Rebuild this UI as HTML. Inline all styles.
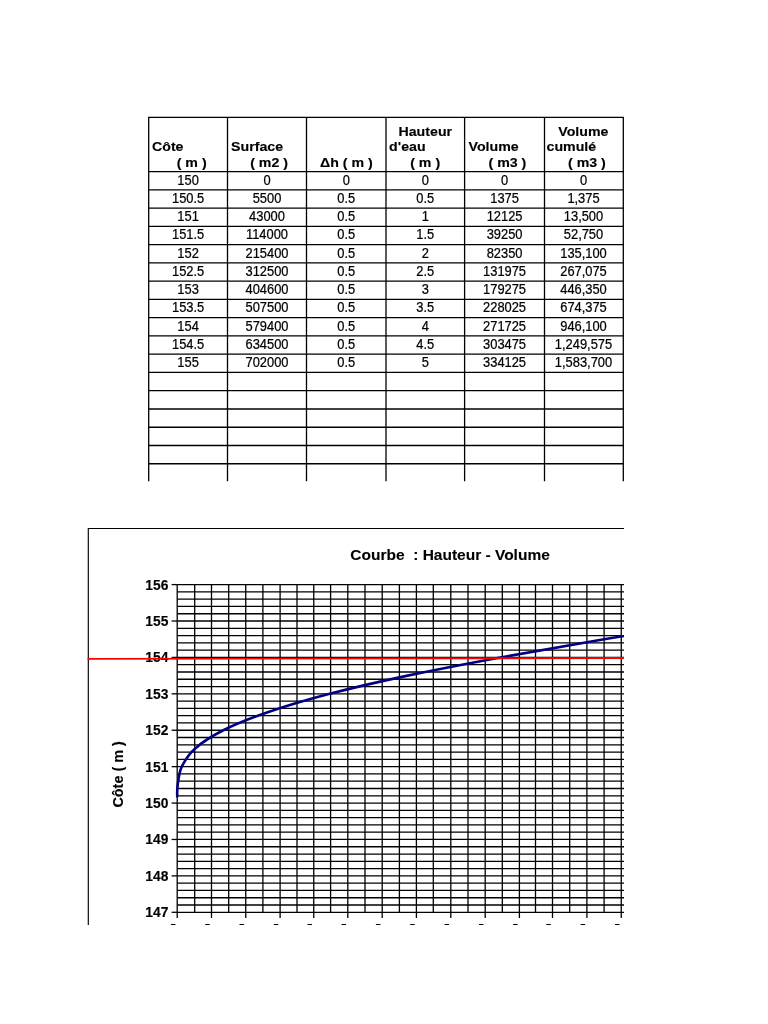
<!DOCTYPE html><html><head><meta charset="utf-8"><style>html,body{margin:0;padding:0;background:#fff;width:768px;height:1024px;overflow:hidden}svg{position:absolute;left:0;top:0;display:block;will-change:transform}text{font-family:"Liberation Sans",sans-serif}</style></head><body><svg width="768" height="1024" viewBox="0 0 768 1024"><g stroke="#000" stroke-width="1.3" fill="none"><line x1="148.2" y1="117.4" x2="623.8" y2="117.4"/><line x1="148.7" y1="171.60" x2="623.3" y2="171.60"/><line x1="148.7" y1="189.86" x2="623.3" y2="189.86"/><line x1="148.7" y1="208.12" x2="623.3" y2="208.12"/><line x1="148.7" y1="226.38" x2="623.3" y2="226.38"/><line x1="148.7" y1="244.64" x2="623.3" y2="244.64"/><line x1="148.7" y1="262.90" x2="623.3" y2="262.90"/><line x1="148.7" y1="281.16" x2="623.3" y2="281.16"/><line x1="148.7" y1="299.42" x2="623.3" y2="299.42"/><line x1="148.7" y1="317.68" x2="623.3" y2="317.68"/><line x1="148.7" y1="335.94" x2="623.3" y2="335.94"/><line x1="148.7" y1="354.20" x2="623.3" y2="354.20"/><line x1="148.7" y1="372.46" x2="623.3" y2="372.46"/><line x1="148.7" y1="390.72" x2="623.3" y2="390.72"/><line x1="148.7" y1="408.98" x2="623.3" y2="408.98"/><line x1="148.7" y1="427.24" x2="623.3" y2="427.24"/><line x1="148.7" y1="445.50" x2="623.3" y2="445.50"/><line x1="148.7" y1="463.76" x2="623.3" y2="463.76"/><line x1="148.7" y1="116.9" x2="148.7" y2="481.2"/><line x1="227.5" y1="116.9" x2="227.5" y2="481.2"/><line x1="306.5" y1="116.9" x2="306.5" y2="481.2"/><line x1="386.0" y1="116.9" x2="386.0" y2="481.2"/><line x1="464.6" y1="116.9" x2="464.6" y2="481.2"/><line x1="544.5" y1="116.9" x2="544.5" y2="481.2"/><line x1="623.3" y1="116.9" x2="623.3" y2="481.2"/></g><g font-size="12.9" fill="#000" stroke="#000" stroke-width="0.22"><text transform="translate(188.10,184.50) scale(1,1.08)" text-anchor="middle">150</text><text transform="translate(267.00,184.50) scale(1,1.08)" text-anchor="middle">0</text><text transform="translate(346.25,184.50) scale(1,1.08)" text-anchor="middle">0</text><text transform="translate(425.30,184.50) scale(1,1.08)" text-anchor="middle">0</text><text transform="translate(504.55,184.50) scale(1,1.08)" text-anchor="middle">0</text><text transform="translate(583.50,184.50) scale(1,1.08)" text-anchor="middle">0</text><text transform="translate(188.10,202.76) scale(1,1.08)" text-anchor="middle">150.5</text><text transform="translate(267.00,202.76) scale(1,1.08)" text-anchor="middle">5500</text><text transform="translate(346.25,202.76) scale(1,1.08)" text-anchor="middle">0.5</text><text transform="translate(425.30,202.76) scale(1,1.08)" text-anchor="middle">0.5</text><text transform="translate(504.55,202.76) scale(1,1.08)" text-anchor="middle">1375</text><text transform="translate(583.50,202.76) scale(1,1.08)" text-anchor="middle">1,375</text><text transform="translate(188.10,221.02) scale(1,1.08)" text-anchor="middle">151</text><text transform="translate(267.00,221.02) scale(1,1.08)" text-anchor="middle">43000</text><text transform="translate(346.25,221.02) scale(1,1.08)" text-anchor="middle">0.5</text><text transform="translate(425.30,221.02) scale(1,1.08)" text-anchor="middle">1</text><text transform="translate(504.55,221.02) scale(1,1.08)" text-anchor="middle">12125</text><text transform="translate(583.50,221.02) scale(1,1.08)" text-anchor="middle">13,500</text><text transform="translate(188.10,239.28) scale(1,1.08)" text-anchor="middle">151.5</text><text transform="translate(267.00,239.28) scale(1,1.08)" text-anchor="middle">114000</text><text transform="translate(346.25,239.28) scale(1,1.08)" text-anchor="middle">0.5</text><text transform="translate(425.30,239.28) scale(1,1.08)" text-anchor="middle">1.5</text><text transform="translate(504.55,239.28) scale(1,1.08)" text-anchor="middle">39250</text><text transform="translate(583.50,239.28) scale(1,1.08)" text-anchor="middle">52,750</text><text transform="translate(188.10,257.54) scale(1,1.08)" text-anchor="middle">152</text><text transform="translate(267.00,257.54) scale(1,1.08)" text-anchor="middle">215400</text><text transform="translate(346.25,257.54) scale(1,1.08)" text-anchor="middle">0.5</text><text transform="translate(425.30,257.54) scale(1,1.08)" text-anchor="middle">2</text><text transform="translate(504.55,257.54) scale(1,1.08)" text-anchor="middle">82350</text><text transform="translate(583.50,257.54) scale(1,1.08)" text-anchor="middle">135,100</text><text transform="translate(188.10,275.80) scale(1,1.08)" text-anchor="middle">152.5</text><text transform="translate(267.00,275.80) scale(1,1.08)" text-anchor="middle">312500</text><text transform="translate(346.25,275.80) scale(1,1.08)" text-anchor="middle">0.5</text><text transform="translate(425.30,275.80) scale(1,1.08)" text-anchor="middle">2.5</text><text transform="translate(504.55,275.80) scale(1,1.08)" text-anchor="middle">131975</text><text transform="translate(583.50,275.80) scale(1,1.08)" text-anchor="middle">267,075</text><text transform="translate(188.10,294.06) scale(1,1.08)" text-anchor="middle">153</text><text transform="translate(267.00,294.06) scale(1,1.08)" text-anchor="middle">404600</text><text transform="translate(346.25,294.06) scale(1,1.08)" text-anchor="middle">0.5</text><text transform="translate(425.30,294.06) scale(1,1.08)" text-anchor="middle">3</text><text transform="translate(504.55,294.06) scale(1,1.08)" text-anchor="middle">179275</text><text transform="translate(583.50,294.06) scale(1,1.08)" text-anchor="middle">446,350</text><text transform="translate(188.10,312.32) scale(1,1.08)" text-anchor="middle">153.5</text><text transform="translate(267.00,312.32) scale(1,1.08)" text-anchor="middle">507500</text><text transform="translate(346.25,312.32) scale(1,1.08)" text-anchor="middle">0.5</text><text transform="translate(425.30,312.32) scale(1,1.08)" text-anchor="middle">3.5</text><text transform="translate(504.55,312.32) scale(1,1.08)" text-anchor="middle">228025</text><text transform="translate(583.50,312.32) scale(1,1.08)" text-anchor="middle">674,375</text><text transform="translate(188.10,330.58) scale(1,1.08)" text-anchor="middle">154</text><text transform="translate(267.00,330.58) scale(1,1.08)" text-anchor="middle">579400</text><text transform="translate(346.25,330.58) scale(1,1.08)" text-anchor="middle">0.5</text><text transform="translate(425.30,330.58) scale(1,1.08)" text-anchor="middle">4</text><text transform="translate(504.55,330.58) scale(1,1.08)" text-anchor="middle">271725</text><text transform="translate(583.50,330.58) scale(1,1.08)" text-anchor="middle">946,100</text><text transform="translate(188.10,348.84) scale(1,1.08)" text-anchor="middle">154.5</text><text transform="translate(267.00,348.84) scale(1,1.08)" text-anchor="middle">634500</text><text transform="translate(346.25,348.84) scale(1,1.08)" text-anchor="middle">0.5</text><text transform="translate(425.30,348.84) scale(1,1.08)" text-anchor="middle">4.5</text><text transform="translate(504.55,348.84) scale(1,1.08)" text-anchor="middle">303475</text><text transform="translate(583.50,348.84) scale(1,1.08)" text-anchor="middle">1,249,575</text><text transform="translate(188.10,367.10) scale(1,1.08)" text-anchor="middle">155</text><text transform="translate(267.00,367.10) scale(1,1.08)" text-anchor="middle">702000</text><text transform="translate(346.25,367.10) scale(1,1.08)" text-anchor="middle">0.5</text><text transform="translate(425.30,367.10) scale(1,1.08)" text-anchor="middle">5</text><text transform="translate(504.55,367.10) scale(1,1.08)" text-anchor="middle">334125</text><text transform="translate(583.50,367.10) scale(1,1.08)" text-anchor="middle">1,583,700</text></g><g font-size="13.9" font-weight="bold" fill="#000" stroke="#000" stroke-width="0.15" xml:space="preserve"><text transform="translate(152.0,151.0) scale(1.02,0.92)">Côte</text><text transform="translate(176.7,166.85) scale(1.02,0.92)">( m )</text><text transform="translate(231.1,151.0) scale(1.02,0.92)">Surface</text><text transform="translate(250.2,166.85) scale(1.02,0.92)">( m2 )</text><text transform="translate(320.0,166.85) scale(1.02,0.92)">Δh ( m )</text><text transform="translate(398.5,136.0) scale(1.02,0.92)">Hauteur</text><text transform="translate(389.1,151.2) scale(1.02,0.92)">d'eau</text><text transform="translate(410.2,166.85) scale(1.02,0.92)">( m )</text><text transform="translate(468.5,151.0) scale(1.02,0.92)">Volume</text><text transform="translate(488.5,166.85) scale(1.02,0.92)">( m3 )</text><text transform="translate(558.3,136.0) scale(1.02,0.92)">Volume</text><text transform="translate(546.5,151.2) scale(1.02,0.92)">cumulé</text><text transform="translate(568.0,166.85) scale(1.02,0.92)">( m3 )</text></g><defs><clipPath id="cp"><rect x="0" y="0" width="624" height="925"/></clipPath></defs><g clip-path="url(#cp)"><g stroke="#000" stroke-width="1.15" fill="none"><line x1="88.3" y1="528.5" x2="700" y2="528.5"/><line x1="88.3" y1="528" x2="88.3" y2="1000"/></g><g stroke="#000" stroke-width="1.3" fill="none"><line x1="177.2" y1="584.60" x2="641.28" y2="584.60"/><line x1="177.2" y1="591.88" x2="641.28" y2="591.88"/><line x1="177.2" y1="599.16" x2="641.28" y2="599.16"/><line x1="177.2" y1="606.45" x2="641.28" y2="606.45"/><line x1="177.2" y1="613.73" x2="641.28" y2="613.73"/><line x1="177.2" y1="621.01" x2="641.28" y2="621.01"/><line x1="177.2" y1="628.29" x2="641.28" y2="628.29"/><line x1="177.2" y1="635.57" x2="641.28" y2="635.57"/><line x1="177.2" y1="642.86" x2="641.28" y2="642.86"/><line x1="177.2" y1="650.14" x2="641.28" y2="650.14"/><line x1="177.2" y1="657.42" x2="641.28" y2="657.42"/><line x1="177.2" y1="664.70" x2="641.28" y2="664.70"/><line x1="177.2" y1="671.98" x2="641.28" y2="671.98"/><line x1="177.2" y1="679.27" x2="641.28" y2="679.27"/><line x1="177.2" y1="686.55" x2="641.28" y2="686.55"/><line x1="177.2" y1="693.83" x2="641.28" y2="693.83"/><line x1="177.2" y1="701.11" x2="641.28" y2="701.11"/><line x1="177.2" y1="708.39" x2="641.28" y2="708.39"/><line x1="177.2" y1="715.68" x2="641.28" y2="715.68"/><line x1="177.2" y1="722.96" x2="641.28" y2="722.96"/><line x1="177.2" y1="730.24" x2="641.28" y2="730.24"/><line x1="177.2" y1="737.52" x2="641.28" y2="737.52"/><line x1="177.2" y1="744.80" x2="641.28" y2="744.80"/><line x1="177.2" y1="752.09" x2="641.28" y2="752.09"/><line x1="177.2" y1="759.37" x2="641.28" y2="759.37"/><line x1="177.2" y1="766.65" x2="641.28" y2="766.65"/><line x1="177.2" y1="773.93" x2="641.28" y2="773.93"/><line x1="177.2" y1="781.21" x2="641.28" y2="781.21"/><line x1="177.2" y1="788.50" x2="641.28" y2="788.50"/><line x1="177.2" y1="795.78" x2="641.28" y2="795.78"/><line x1="177.2" y1="803.06" x2="641.28" y2="803.06"/><line x1="177.2" y1="810.34" x2="641.28" y2="810.34"/><line x1="177.2" y1="817.62" x2="641.28" y2="817.62"/><line x1="177.2" y1="824.91" x2="641.28" y2="824.91"/><line x1="177.2" y1="832.19" x2="641.28" y2="832.19"/><line x1="177.2" y1="839.47" x2="641.28" y2="839.47"/><line x1="177.2" y1="846.75" x2="641.28" y2="846.75"/><line x1="177.2" y1="854.03" x2="641.28" y2="854.03"/><line x1="177.2" y1="861.32" x2="641.28" y2="861.32"/><line x1="177.2" y1="868.60" x2="641.28" y2="868.60"/><line x1="177.2" y1="875.88" x2="641.28" y2="875.88"/><line x1="177.2" y1="883.16" x2="641.28" y2="883.16"/><line x1="177.2" y1="890.44" x2="641.28" y2="890.44"/><line x1="177.2" y1="897.73" x2="641.28" y2="897.73"/><line x1="177.2" y1="905.01" x2="641.28" y2="905.01"/><line x1="177.2" y1="912.29" x2="641.28" y2="912.29"/><line x1="177.20" y1="584.6" x2="177.20" y2="912.29"/><line x1="194.70" y1="584.6" x2="194.70" y2="912.29"/><line x1="211.50" y1="584.6" x2="211.50" y2="912.29"/><line x1="228.70" y1="584.6" x2="228.70" y2="912.29"/><line x1="245.75" y1="584.6" x2="245.75" y2="912.29"/><line x1="262.90" y1="584.6" x2="262.90" y2="912.29"/><line x1="280.10" y1="584.6" x2="280.10" y2="912.29"/><line x1="297.00" y1="584.6" x2="297.00" y2="912.29"/><line x1="313.75" y1="584.6" x2="313.75" y2="912.29"/><line x1="330.60" y1="584.6" x2="330.60" y2="912.29"/><line x1="347.80" y1="584.6" x2="347.80" y2="912.29"/><line x1="365.00" y1="584.6" x2="365.00" y2="912.29"/><line x1="382.20" y1="584.6" x2="382.20" y2="912.29"/><line x1="399.40" y1="584.6" x2="399.40" y2="912.29"/><line x1="416.40" y1="584.6" x2="416.40" y2="912.29"/><line x1="433.30" y1="584.6" x2="433.30" y2="912.29"/><line x1="450.80" y1="584.6" x2="450.80" y2="912.29"/><line x1="468.00" y1="584.6" x2="468.00" y2="912.29"/><line x1="485.20" y1="584.6" x2="485.20" y2="912.29"/><line x1="502.30" y1="584.6" x2="502.30" y2="912.29"/><line x1="519.40" y1="584.6" x2="519.40" y2="912.29"/><line x1="535.50" y1="584.6" x2="535.50" y2="912.29"/><line x1="552.50" y1="584.6" x2="552.50" y2="912.29"/><line x1="569.70" y1="584.6" x2="569.70" y2="912.29"/><line x1="586.90" y1="584.6" x2="586.90" y2="912.29"/><line x1="604.10" y1="584.6" x2="604.10" y2="912.29"/><line x1="621.25" y1="584.6" x2="621.25" y2="912.29"/><line x1="638.30" y1="584.6" x2="638.30" y2="912.29"/><line x1="171.6" y1="584.60" x2="177.2" y2="584.60"/><line x1="171.6" y1="621.01" x2="177.2" y2="621.01"/><line x1="171.6" y1="657.42" x2="177.2" y2="657.42"/><line x1="171.6" y1="693.83" x2="177.2" y2="693.83"/><line x1="171.6" y1="730.24" x2="177.2" y2="730.24"/><line x1="171.6" y1="766.65" x2="177.2" y2="766.65"/><line x1="171.6" y1="803.06" x2="177.2" y2="803.06"/><line x1="171.6" y1="839.47" x2="177.2" y2="839.47"/><line x1="171.6" y1="875.88" x2="177.2" y2="875.88"/><line x1="171.6" y1="912.29" x2="177.2" y2="912.29"/><line x1="177.20" y1="912.29" x2="177.20" y2="918"/><line x1="211.50" y1="912.29" x2="211.50" y2="918"/><line x1="245.75" y1="912.29" x2="245.75" y2="918"/><line x1="280.10" y1="912.29" x2="280.10" y2="918"/><line x1="313.75" y1="912.29" x2="313.75" y2="918"/><line x1="347.80" y1="912.29" x2="347.80" y2="918"/><line x1="382.20" y1="912.29" x2="382.20" y2="918"/><line x1="416.40" y1="912.29" x2="416.40" y2="918"/><line x1="450.80" y1="912.29" x2="450.80" y2="918"/><line x1="485.20" y1="912.29" x2="485.20" y2="918"/><line x1="519.40" y1="912.29" x2="519.40" y2="918"/><line x1="552.50" y1="912.29" x2="552.50" y2="918"/><line x1="586.90" y1="912.29" x2="586.90" y2="918"/><line x1="621.25" y1="912.29" x2="621.25" y2="918"/></g><g fill="#000"><rect x="170.80" y="923.9" width="4.8" height="1.2" rx="0.6"/><rect x="205.10" y="923.9" width="4.8" height="1.2" rx="0.6"/><rect x="239.35" y="923.9" width="4.8" height="1.2" rx="0.6"/><rect x="273.70" y="923.9" width="4.8" height="1.2" rx="0.6"/><rect x="307.35" y="923.9" width="4.8" height="1.2" rx="0.6"/><rect x="341.40" y="923.9" width="4.8" height="1.2" rx="0.6"/><rect x="375.80" y="923.9" width="4.8" height="1.2" rx="0.6"/><rect x="410.00" y="923.9" width="4.8" height="1.2" rx="0.6"/><rect x="444.40" y="923.9" width="4.8" height="1.2" rx="0.6"/><rect x="478.80" y="923.9" width="4.8" height="1.2" rx="0.6"/><rect x="513.00" y="923.9" width="4.8" height="1.2" rx="0.6"/><rect x="546.10" y="923.9" width="4.8" height="1.2" rx="0.6"/><rect x="580.50" y="923.9" width="4.8" height="1.2" rx="0.6"/><rect x="614.85" y="923.9" width="4.8" height="1.2" rx="0.6"/></g><g font-size="13.8" font-weight="bold" fill="#000" stroke="#000" stroke-width="0.15"><text x="168.4" y="589.60" text-anchor="end">156</text><text x="168.4" y="626.01" text-anchor="end">155</text><text x="168.4" y="662.42" text-anchor="end">154</text><text x="168.4" y="698.83" text-anchor="end">153</text><text x="168.4" y="735.24" text-anchor="end">152</text><text x="168.4" y="771.65" text-anchor="end">151</text><text x="168.4" y="808.06" text-anchor="end">150</text><text x="168.4" y="844.47" text-anchor="end">149</text><text x="168.4" y="880.88" text-anchor="end">148</text><text x="168.4" y="917.29" text-anchor="end">147</text></g><path d="M177.20,796.51 C177.28,794.56 176.90,789.83 177.67,784.86 C178.44,779.88 178.89,772.72 181.81,766.65 C184.74,760.58 188.30,754.51 195.22,748.44 C202.14,742.38 211.15,736.31 223.35,730.24 C235.55,724.17 250.71,718.10 268.43,712.03 C286.15,705.97 306.48,699.90 329.67,693.83 C352.86,687.76 379.11,681.69 407.57,675.62 C436.02,669.56 467.64,663.49 500.39,657.42 C533.14,651.35 567.75,645.28 604.05,639.22 C640.36,633.15 681.16,626.77 718.19,621.01 C755.22,615.25 808.23,607.36 826.24,604.63" stroke="#000080" stroke-width="2.6" fill="none" stroke-linejoin="round" stroke-linecap="round"/><line x1="87.5" y1="658.9" x2="624" y2="658.05" stroke="#ff0000" stroke-width="1.9"/><text x="350.3" y="559.5" font-size="15.5" font-weight="bold" fill="#000" stroke="#000" stroke-width="0.12" xml:space="preserve">Courbe  : Hauteur - Volume</text><text transform="translate(123.1,807.6) rotate(-90)" font-size="14.4" font-weight="bold" fill="#000" stroke="#000" stroke-width="0.12">Côte ( m )</text></g></svg></body></html>
